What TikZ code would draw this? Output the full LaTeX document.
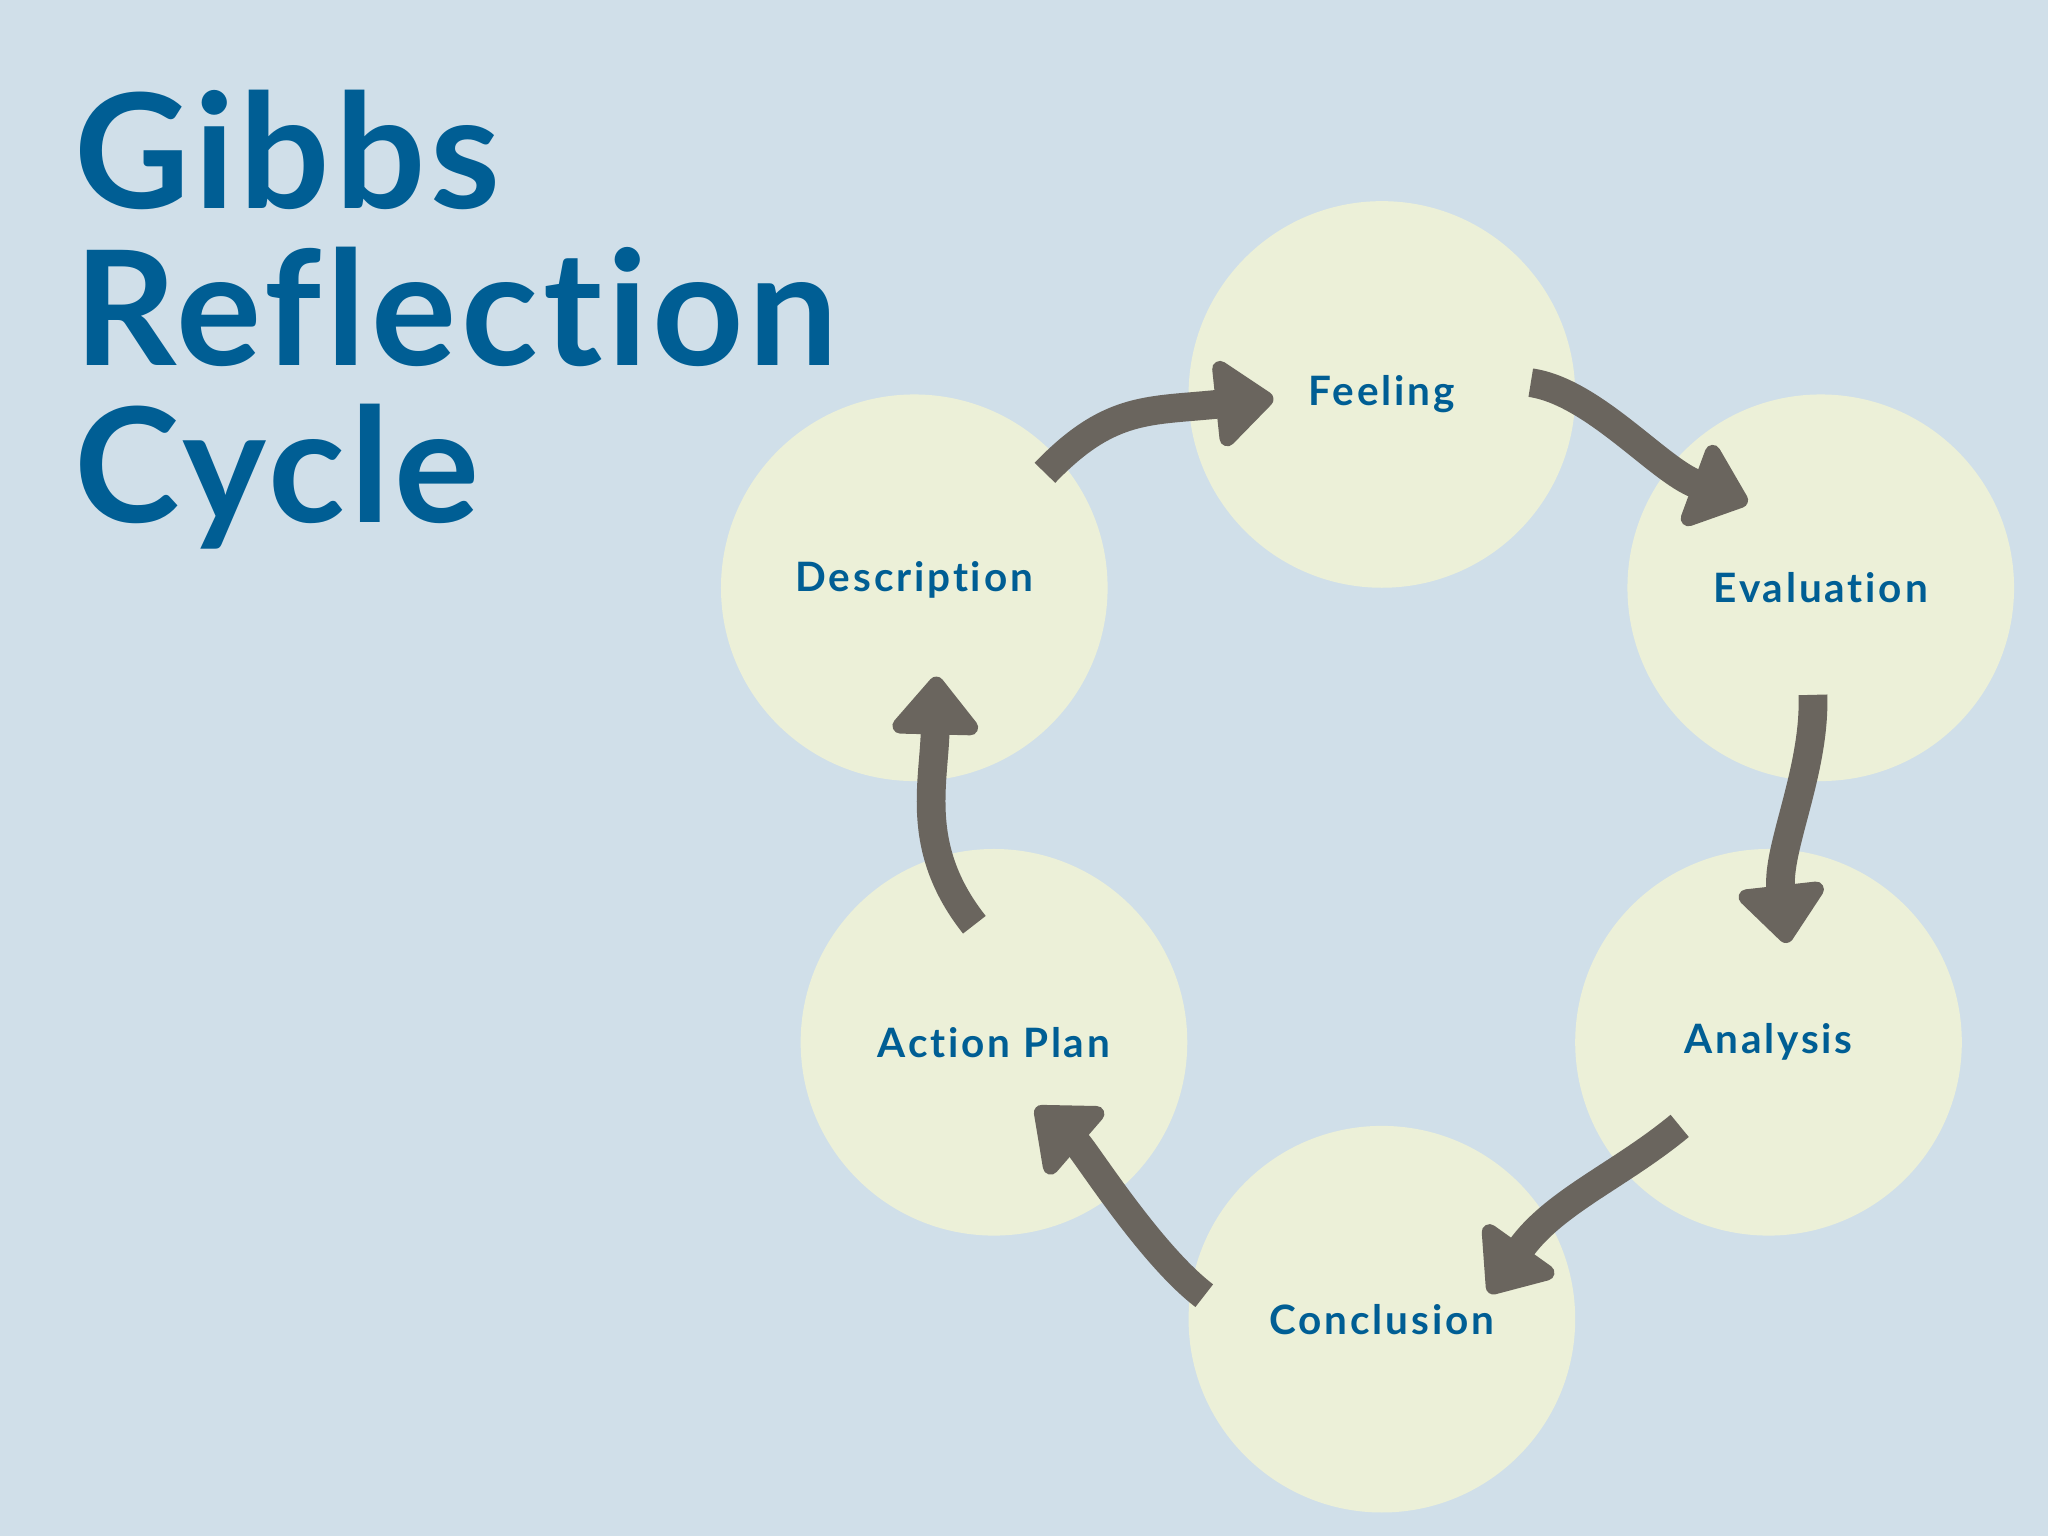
\documentclass[tikz,border=0pt]{standalone}
\usepackage{fontspec}
\setmainfont{Lato}[Ligatures=NoCommon]
\usetikzlibrary{arrows.meta}
\definecolor{bg}{HTML}{D0DFE9}
\definecolor{circ}{HTML}{ECF0D8}
\definecolor{txt}{HTML}{005E94}
\definecolor{arr}{HTML}{6A655E}
\begin{document}
\begin{tikzpicture}[x=0.5pt,y=-0.5pt,
  stage/.style={circle,fill=circ,minimum size=148pt,inner sep=0pt,text=txt,font=\fontsize{15.5}{18}\selectfont\addfontfeature{LetterSpace=7}\bfseries},
  flow/.style={draw=arr,line width=11pt,-{Triangle[length=24pt,width=38pt,round]}}]
\fill[bg] (0,0) rectangle (1568,1176);
\useasboundingbox (0,0) rectangle (1568,1176);
\node[stage] (feel) at (1058,302) {Feeling};
\node[stage] (desc) at (700,450) {\raisebox{9pt}{Description}};
\node[stage] (eval) at (1394,450) {Evaluation};
\node[stage] (anal) at (1354,798) {Analysis};
\node[stage] (conc) at (1058,1010) {\raisebox{-6pt}{Conclusion}};
\node[stage] (act) at (761,798) {Action Plan};
\node[anchor=north west,align=left,text=txt,font=\fontsize{61}{60}\selectfont\addfontfeature{LetterSpace=3}\bfseries] (title) at (50,62) {Gibbs\\Reflection\\Cycle};
\coordinate (a1) at (800,362); \coordinate (b1) at (975,305);
\coordinate (a2) at (1172,293); \coordinate (b2) at (1338,385);
\coordinate (a3) at (1388,532); \coordinate (b3) at (1368,722);
\coordinate (a4) at (1286,862); \coordinate (b4) at (1140,990);
\coordinate (a5) at (922,992); \coordinate (b5) at (793,848);
\coordinate (a6) at (746,708); \coordinate (b6) at (717,518);
\draw[flow] (a1) .. controls (850,310) and (880,315) .. (b1);
\draw[flow] (a2) .. controls (1220,300) and (1270,360) .. (b2);
\draw[flow] (a3) .. controls (1390,590) and (1360,650) .. (b3);
\draw[flow] (a4) .. controls (1240,900) and (1190,920) .. (b4);
\draw[flow] (a5) .. controls (880,960) and (830,880) .. (b5);
\draw[flow] (a6) .. controls (700,650) and (715,600) .. (b6);
\end{tikzpicture}
\end{document}
